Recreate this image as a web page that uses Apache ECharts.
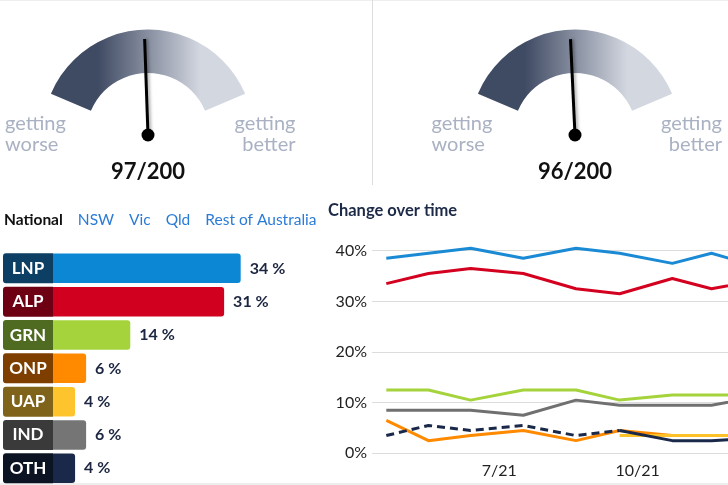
<!DOCTYPE html>
<html>
<head>
<meta charset="utf-8">
<title>Poll tracker</title>
<script src="https://cdn.jsdelivr.net/npm/echarts@6/dist/echarts.min.js"></script>
<style>
  html, body { margin: 0; padding: 0; background: #fff; overflow: hidden; }
  #main { width: 728px; height: 485px; }
</style>
</head>
<body>
<div id="main"></div>
<script>
// gauges
var gaugeScores = [97, 96];
var gaugeMax = 200;

// region tabs above the bars
var regionTabs = ["National", "NSW", "Vic", "Qld", "Rest of Australia"];

// national vote share
var parties = ["LNP", "ALP", "GRN", "ONP", "UAP", "IND", "OTH"];
var voteShare = [34, 31, 14, 6, 4, 6, 4];
var partyColors = ["#0b87d4", "#d1001f", "#a5d33c", "#ff8a00", "#fec42d", "#757575", "#1a2849"];
var partyDark = ["#0d3e63", "#6d0012", "#4f6b22", "#7e3e00", "#80631a", "#3a3a3a", "#0c1424"];

// change over time
var pollDates = ["2021-04-17", "2021-05-15", "2021-06-12", "2021-07-17", "2021-08-21",
  "2021-09-19", "2021-10-24", "2021-11-19", "2021-12-18"];
var lnpTrend = [38.5, 39.5, 40.5, 38.5, 40.5, 39.5, 37.5, 39.5, 37];
var alpTrend = [33.5, 35.5, 36.5, 35.5, 32.5, 31.5, 34.5, 32.5, 34];
var grnTrend = [12.5, 12.5, 10.5, 12.5, 12.5, 10.5, 11.5, 11.5, 11.5];
var indTrend = [8.5, 8.5, 8.5, 7.5, 10.5, 9.5, 9.5, 9.5, 11];
var onpTrend = [6.5, 2.5, 3.5, 4.5, 2.5, 4.5, 3.5, 3.5, 3.5];
var uapTrend = [null, null, null, null, null, 3.5, 3.5, 3.5, 3.5];
var othOldTrend = [3.5, 5.5, 4.5, 5.5, 3.5, 4.5, null, null, null];
var othTrend = [null, null, null, null, null, 4.5, 2.5, 2.5, 3];
var trendTicks = ["2021-07-01", "2021-10-01"];
var yTicks = [0, 10, 20, 30, 40];

var FONT = "Lato, 'Open Sans', sans-serif";
var yearStart = Date.UTC(2021, 0, 1);

function dayOf(s) {
  return (Date.parse(s + "T00:00:00Z") - yearStart) / 864e5;
}

function trend(values) {
  return values.map(function(v, i) {
    return [dayOf(pollDates[i]), v];
  });
}

function gauge(cx, score) {
  return {
    type: "gauge",
    center: [cx, 135],
    radius: 105.5,
    startAngle: 157,
    endAngle: 23,
    min: 0,
    max: gaugeMax,
    axisLine: {
      lineStyle: {
        width: 43.5,
        color: [[1, new echarts.graphic.LinearGradient(0, 0, 1, 0, [
          { offset: 0, color: "#3f4a63" },
          { offset: 0.24, color: "#3f4a63" },
          { offset: 0.77, color: "#d3d7e0" },
          { offset: 1, color: "#d3d7e0" }
        ])]]
      }
    },
    splitLine: { show: false },
    axisTick: { show: false },
    axisLabel: { show: false },
    pointer: {
      icon: "rect",
      width: 3,
      length: 96,
      itemStyle: {
        color: "#000",
        shadowBlur: 3,
        shadowOffsetX: 2,
        shadowColor: "rgba(0,0,0,0.3)"
      }
    },
    anchor: {
      show: true,
      showAbove: true,
      size: 13,
      itemStyle: { color: "#000" }
    },
    title: { show: false },
    detail: {
      offsetCenter: [0, 37],
      formatter: "{value}/" + gaugeMax,
      fontFamily: FONT,
      fontWeight: "bold",
      fontSize: 22,
      color: "#111"
    },
    data: [{ value: score }]
  };
}

function sideText(x, y, text, align) {
  return {
    type: "text",
    x: x,
    y: y,
    style: {
      text: text,
      font: "20px " + FONT,
      fill: "#a9b1c3",
      lineHeight: 21,
      align: align,
      verticalAlign: "middle"
    }
  };
}

// tabs as one rich text line
var tabText = regionTabs.map(function(t, i) {
  return "{" + (i === 0 ? "on" : "off") + "|" + t + "}";
}).join("");

// party name boxes on the category axis
var partyRich = {};
parties.forEach(function(p, i) {
  partyRich["p" + i] = {
    width: 50,
    height: 30,
    align: "center",
    backgroundColor: partyDark[i],
    borderRadius: [3, 0, 0, 3],
    color: "#fff",
    fontFamily: FONT,
    fontWeight: "bold",
    fontSize: 17
  };
});

var lineSeries = [
  { name: "LNP", values: lnpTrend, color: "#1a8ad4" },
  { name: "ALP", values: alpTrend, color: "#d3001f" },
  { name: "GRN", values: grnTrend, color: "#a5d33c" },
  { name: "IND", values: indTrend, color: "#707070" },
  { name: "ONP", values: onpTrend, color: "#ff8a00" },
  { name: "UAP", values: uapTrend, color: "#fdc22a" },
  { name: "OTH old", values: othOldTrend, color: "#1a2849", dash: [8, 5] },
  { name: "OTH", values: othTrend, color: "#1a2849" }
].map(function(s) {
  return {
    type: "line",
    name: s.name,
    xAxisIndex: 1,
    yAxisIndex: 1,
    data: trend(s.values),
    symbol: "none",
    clip: false,
    silent: true,
    lineStyle: { color: s.color, width: 3, type: s.dash || "solid" }
  };
});

var chart = echarts.init(document.getElementById("main"));

chart.setOption({
  animation: false,
  textStyle: { fontFamily: FONT },
  grid: [
    { left: 53, top: 251.7, height: 233.3, width: 220.8, outerBoundsMode: "none" },
    // plot runs past the right edge, as in the original crop
    { left: 372, top: 250.7, height: 202.6, width: 396.7, outerBoundsMode: "none" }
  ],
  xAxis: [
    { gridIndex: 0, type: "value", min: 0, max: 40, show: false },
    {
      gridIndex: 1,
      type: "value",
      min: 96.5,
      max: 360,
      axisLine: { show: false },
      axisTick: { show: false },
      splitLine: { show: false },
      axisLabel: {
        customValues: trendTicks.map(dayOf),
        margin: 10,
        fontSize: 16,
        color: "#222",
        formatter: function(v) {
          var d = new Date(yearStart + v * 864e5);
          return (d.getUTCMonth() + 1) + "/" + String(d.getUTCFullYear()).slice(2);
        }
      }
    }
  ],
  yAxis: [
    {
      gridIndex: 0,
      type: "category",
      inverse: true,
      data: parties,
      axisLine: { show: false },
      axisTick: { show: false },
      axisLabel: {
        margin: 0,
        formatter: function(v) {
          return "{p" + parties.indexOf(v) + "|" + v + "}";
        },
        rich: partyRich
      }
    },
    {
      gridIndex: 1,
      type: "value",
      min: yTicks[0],
      max: yTicks[yTicks.length - 1],
      interval: 10,
      axisLine: { show: false },
      axisTick: { show: false },
      axisLabel: { margin: 5, fontSize: 16, color: "#222", formatter: "{value}%" },
      splitLine: { lineStyle: { color: "#dcdcdc" } }
    }
  ],
  graphic: [
    { type: "line", shape: { x1: 0, y1: 0.5, x2: 728, y2: 0.5 }, style: { stroke: "#eeeeee", lineWidth: 1 } },
    { type: "line", shape: { x1: 372.5, y1: 0, x2: 372.5, y2: 185 }, style: { stroke: "#dddddd", lineWidth: 1 } },
    { type: "rect", shape: { x: 0, y: 483, width: 728, height: 2 }, style: { fill: "#eeeeee" } },
    sideText(5, 134.5, "getting\nworse", "left"),
    sideText(295.5, 134.5, "getting\nbetter", "right"),
    sideText(431.5, 134.5, "getting\nworse", "left"),
    sideText(722, 134.5, "getting\nbetter", "right"),
    {
      type: "text",
      x: 4,
      y: 219.5,
      style: {
        text: tabText,
        verticalAlign: "middle",
        rich: {
          on: { fontFamily: FONT, fontWeight: "bold", fontSize: 15.5, fill: "#111" },
          off: { fontFamily: FONT, fontSize: 15.5, fill: "#2b7bd6", padding: [0, 0, 0, 15] }
        }
      }
    },
    {
      type: "text",
      x: 328,
      y: 211,
      style: {
        text: "Change over time",
        font: "bold 16.5px " + FONT,
        fill: "#1c2a48",
        verticalAlign: "middle"
      }
    }
  ],
  series: [
    gauge(148, gaugeScores[0]),
    gauge(575, gaugeScores[1]),
    {
      type: "bar",
      xAxisIndex: 0,
      yAxisIndex: 0,
      barWidth: 29.5,
      silent: true,
      data: voteShare.map(function(v, i) {
        return { value: v, itemStyle: { color: partyColors[i], borderRadius: [0, 3, 3, 0] } };
      }),
      label: {
        show: true,
        position: "right",
        distance: 9,
        formatter: "{c} %",
        fontFamily: FONT,
        fontWeight: "bold",
        fontSize: 16,
        color: "#1c2541"
      }
    }
  ].concat(lineSeries)
});
</script>
</body>
</html>
